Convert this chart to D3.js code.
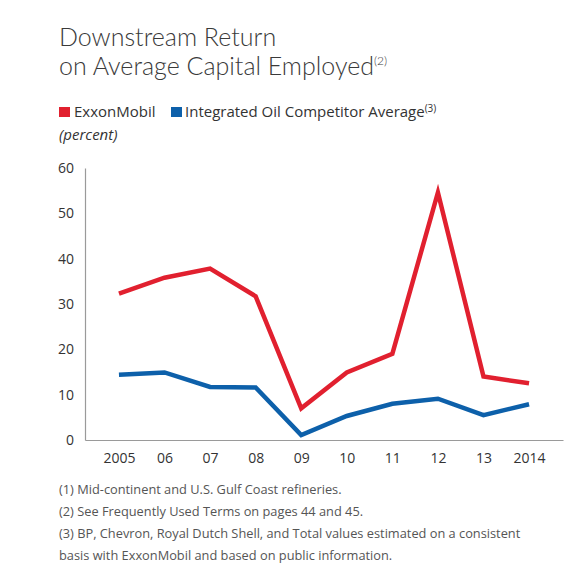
<!DOCTYPE html>
<html>
<head>
<meta charset="utf-8">
<script src="https://cdn.jsdelivr.net/npm/d3@7"></script>
<style>
  body { margin: 0; background: #fff; }
  svg { font-family: "Open Sans", "Noto Sans", sans-serif; }
</style>
</head>
<body>
<svg id="chart" width="580" height="584"></svg>
<script>
// data
var years = ["2005", "06", "07", "08", "09", "10", "11", "12", "13", "2014"];
var exxon = [32.3, 35.8, 37.8, 31.7, 7.0, 14.9, 19.0, 54.6, 14.0, 12.5];
var competitors = [14.4, 14.9, 11.7, 11.6, 1.1, 5.3, 8.0, 9.1, 5.5, 7.9];
var yTicks = [0, 10, 20, 30, 40, 50, 60];
var notes = [
  "(1) Mid-continent and U.S. Gulf Coast refineries.",
  "(2) See Frequently Used Terms on pages 44 and 45.",
  "(3) BP, Chevron, Royal Dutch Shell, and Total values estimated on a consistent",
  "basis with ExxonMobil and based on public information."
];

var red = "#e1202f",
    blue = "#0d60aa",
    ink = "#333";

var svg = d3.select("#chart");

// title
var title = svg.append("g").attr("fill", "#3a3a3a")
  .style("font-family", "Lato, \"Open Sans\", sans-serif")
  .style("font-size", "25px").style("font-weight", 300);
title.append("text").attr("x", 59).attr("y", 46).text("Downstream Return");
var t2 = title.append("text").attr("x", 59).attr("y", 75).text("on Average Capital Employed");
t2.append("tspan").attr("dy", -10).style("font-size", "12px").text("(2)");

// legend
var legend = svg.append("g").style("font-size", "15px").attr("fill", ink);
legend.append("rect").attr("x", 59).attr("y", 107).attr("width", 11).attr("height", 10).attr("fill", red);
legend.append("text").attr("x", 74).attr("y", 117).text("ExxonMobil");
legend.append("rect").attr("x", 171).attr("y", 107).attr("width", 11).attr("height", 10).attr("fill", blue);
legend.append("text").attr("x", 185).attr("y", 117).text("Integrated Oil Competitor Average")
  .append("tspan").attr("dy", -5).style("font-size", "10px").text("(3)");

svg.append("text").attr("x", 59).attr("y", 140)
  .style("font-size", "15px").style("font-style", "italic").attr("fill", ink)
  .text("(percent)");

// scales
var x = d3.scalePoint().domain(years).range([85, 563]).padding(0.745);
var y = d3.scaleLinear().domain([0, 60]).range([440, 168]);

var xAxis = svg.append("g")
  .attr("transform", "translate(0," + y(0) + ")")
  .call(d3.axisBottom(x).tickSize(0).tickPadding(13));
var yAxis = svg.append("g")
  .attr("transform", "translate(" + x.range()[0] + ",0)")
  .call(d3.axisLeft(y).tickValues(yTicks).tickSize(0).tickPadding(11));

[xAxis, yAxis].forEach(function(a) {
  a.select(".domain").attr("stroke", "#9a9a9a").attr("stroke-width", 1.2);
  a.selectAll("text").attr("fill", ink).style("font-size", "14px")
    .style("font-family", "\"Open Sans\", \"Noto Sans\", sans-serif");
});

// lines
var line = d3.line()
  .x(function(d, i) { return x(years[i]); })
  .y(function(d) { return y(d); });

[[competitors, blue], [exxon, red]].forEach(function(s) {
  svg.append("path")
    .datum(s[0])
    .attr("d", line)
    .attr("fill", "none")
    .attr("stroke", s[1])
    .attr("stroke-width", 4.5)
    .attr("stroke-linejoin", "miter");
});

// footnotes
svg.append("g").attr("fill", "#555").style("font-size", "12.8px")
  .selectAll("text")
  .data(notes)
  .enter()
  .append("text")
  .attr("x", 59)
  .attr("y", function(d, i) { return 494 + i * 22; })
  .text(function(d) { return d; });
</script>
</body>
</html>
